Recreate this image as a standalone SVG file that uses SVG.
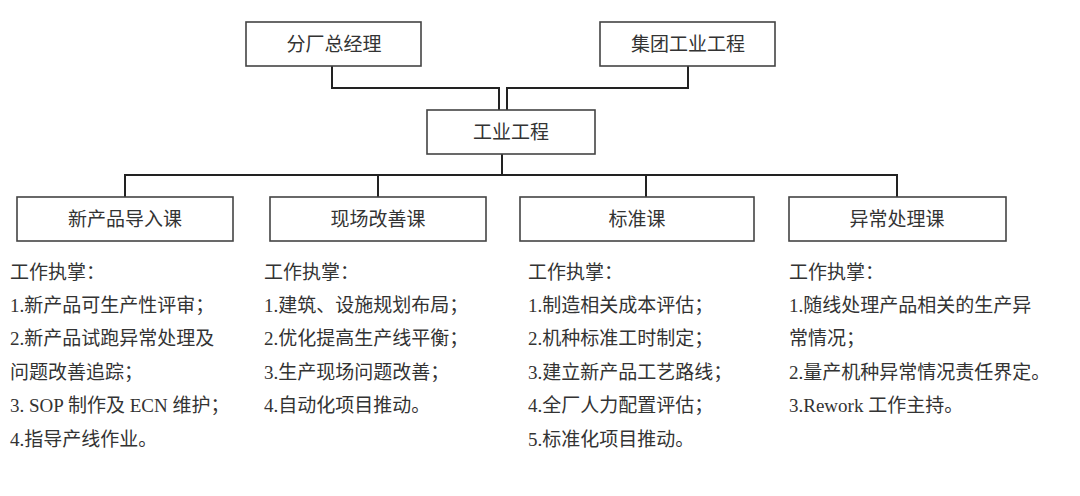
<svg xmlns="http://www.w3.org/2000/svg" width="1080" height="496" viewBox="0 0 1080 496">
<style>
text{font-family:"Liberation Serif","Noto Sans CJK SC",serif;font-size:19px;fill:#333}
.b{fill:#fff;stroke:#444;stroke-width:1.6}
.l{fill:none;stroke:#222;stroke-width:2}
.c{text-anchor:middle}
</style>
<rect width="1080" height="496" fill="#fff"/>
<g id="connectors">
<polyline class="l" points="332,66 332,88 499,88 499,110"/>
<polyline class="l" points="688,66 688,88 507,88 507,110"/>
<line class="l" x1="502" y1="154" x2="502" y2="175"/>
<polyline class="l" points="125,197 125,175 897,175 897,197"/>
<line class="l" x1="378" y1="175" x2="378" y2="197"/>
<line class="l" x1="646" y1="175" x2="646" y2="197"/>
</g>
<g id="n1"><rect class="b" x="246" y="22" width="175" height="44"/><text class="c" x="334" y="51">分厂总经理</text></g>
<g id="n2"><rect class="b" x="600" y="22" width="175" height="44"/><text class="c" x="688" y="51">集团工业工程</text></g>
<g id="n3"><rect class="b" x="427" y="110" width="168" height="44"/><text class="c" x="511" y="139">工业工程</text></g>
<g id="n4"><rect class="b" x="17" y="197" width="216" height="44"/><text class="c" x="125" y="226">新产品导入课</text></g>
<g id="n5"><rect class="b" x="270" y="197" width="216" height="44"/><text class="c" x="378" y="226">现场改善课</text></g>
<g id="n6"><rect class="b" x="520" y="197" width="234" height="44"/><text class="c" x="637" y="226">标准课</text></g>
<g id="n7"><rect class="b" x="789" y="197" width="217" height="44"/><text class="c" x="897" y="226">异常处理课</text></g>
<g id="t1"><text x="10" y="279">工作执掌：</text><text x="10" y="312">1.新产品可生产性评审；</text><text x="10" y="345">2.新产品试跑异常处理及</text><text x="10" y="379">问题改善追踪；</text><text x="10" y="412">3. SOP 制作及 ECN 维护；</text><text x="10" y="446">4.指导产线作业。</text></g>
<g id="t2"><text x="264" y="279">工作执掌：</text><text x="264" y="312">1.建筑、设施规划布局；</text><text x="264" y="345">2.优化提高生产线平衡；</text><text x="264" y="379">3.生产现场问题改善；</text><text x="264" y="412">4.自动化项目推动。</text></g>
<g id="t3"><text x="528" y="279">工作执掌：</text><text x="528" y="312">1.制造相关成本评估；</text><text x="528" y="345">2.机种标准工时制定；</text><text x="528" y="379">3.建立新产品工艺路线；</text><text x="528" y="412">4.全厂人力配置评估；</text><text x="528" y="446">5.标准化项目推动。</text></g>
<g id="t4"><text x="789" y="279">工作执掌：</text><text x="789" y="312">1.随线处理产品相关的生产异</text><text x="789" y="345">常情况；</text><text x="789" y="379">2.量产机种异常情况责任界定。</text><text x="789" y="412">3.Rework 工作主持。</text></g>
</svg>
